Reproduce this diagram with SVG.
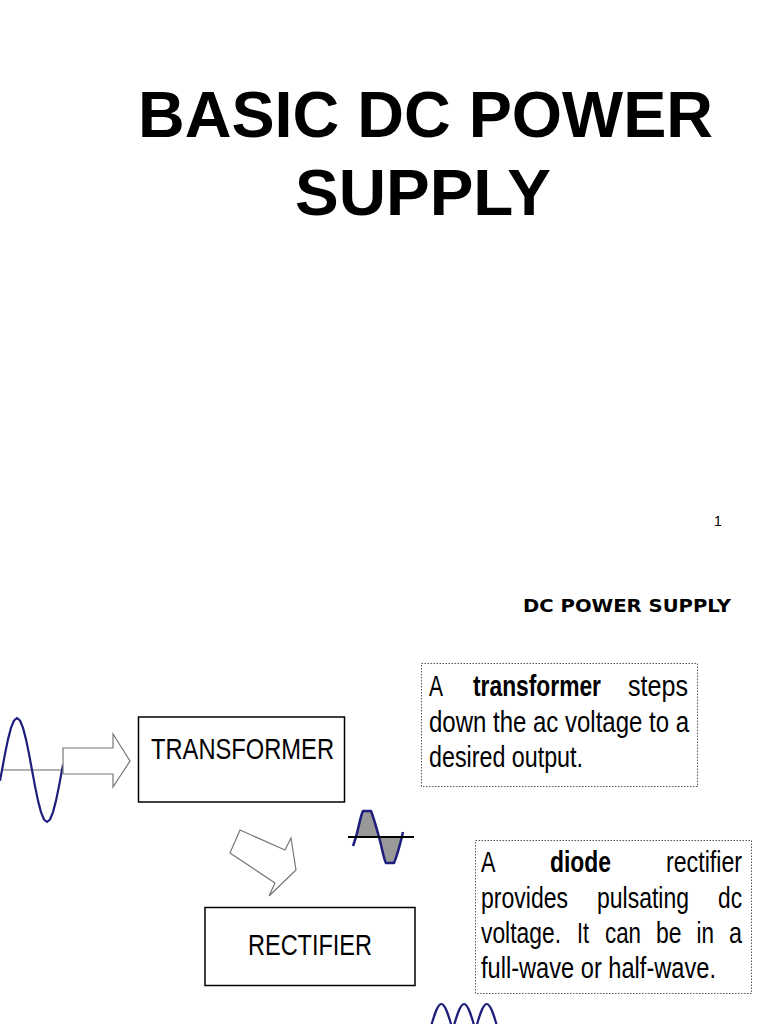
<svg xmlns="http://www.w3.org/2000/svg" width="768" height="1024" viewBox="0 0 768 1024">
<style>
.title{font-family:"Liberation Sans",Arial,sans-serif;font-weight:bold;font-size:65px;fill:#000}
.box{fill:#fff;stroke:#000;stroke-width:1.5}
.note{fill:#fff;stroke:#555;stroke-width:1;stroke-dasharray:1.5 1.5}
.lbl{font-family:"Liberation Sans Narrow","Liberation Sans",Arial,sans-serif;font-size:30px;fill:#000}
.b{font-weight:bold}
.arrow{fill:#fff;stroke:#777;stroke-width:1.2;stroke-linejoin:miter}
.wave{fill:none;stroke:#1e1e7c;stroke-width:2.2;stroke-linejoin:round}
</style>
<rect width="768" height="1024" fill="#fff"/>
<g id="title">
<text class="title" x="138" y="137" textLength="575" lengthAdjust="spacingAndGlyphs">BASIC DC POWER</text>
<text class="title" x="295" y="215" textLength="256" lengthAdjust="spacingAndGlyphs">SUPPLY</text>
</g>
<g id="page-number"><text x="714" y="526" font-family="'Liberation Sans',Arial,sans-serif" font-size="14" fill="#000">1</text></g>
<g id="slide-title"><text x="523" y="612" font-family="'DejaVu Sans',sans-serif" font-weight="bold" font-size="17" fill="#000" textLength="208" lengthAdjust="spacingAndGlyphs">DC POWER SUPPLY</text></g>

<g id="input-wave">
<line x1="2" y1="770" x2="63" y2="770" stroke="#999" stroke-width="1.5"/>
<polyline class="wave" points="0,780.8 2,770 5,753.9 8,739.4 11,727.9 14,720.5 17,718 20,720.5 23,727.9 26,739.4 29,753.9 32,770 35,786.1 38,800.6 41,812.1 44,819.5 47,822 50,819.5 53,812.1 56,800.6 59,786.1 62,770 63,764.6"/>
</g>

<g id="connectors">
<polygon class="arrow" points="63,748 113,748 113,734 130,761 113,787 113,774 63,774"/>
<polygon class="arrow" points="240,830 285,850 291,838 296,870 269,896 275,883 230,853"/>
</g>

<g id="transformer">
<rect class="box" x="138.5" y="717" width="206" height="85"/>
<text class="lbl" x="151" y="759" textLength="183" lengthAdjust="spacingAndGlyphs">TRANSFORMER</text>
</g>

<g id="halfwave">
<path d="M356,837 C359,826 361,814 363,811 L371,811 C373,816 376,826 379,837 Z M379,837 C382,848 384,860 386,863 L394,863 C396,858 398,848 401,837 Z" fill="#999"/>
<path d="M353,846 L356,837 C359,826 361,814 363,811 L371,811 C373,816 376,826 379,837 C382,848 384,860 386,863 L394,863 C397,856 400,845 403,832" fill="none" stroke="#1e1e7c" stroke-width="2.5" stroke-linejoin="round"/>
<line x1="348" y1="837" x2="414" y2="837" stroke="#000" stroke-width="2"/>
</g>

<g id="rectifier">
<rect class="box" x="205" y="907.5" width="210" height="78"/>
<text class="lbl" x="248" y="955" textLength="124" lengthAdjust="spacingAndGlyphs">RECTIFIER</text>
</g>

<g id="fullwave">
<path class="wave" d="M430,1030 C433.7,1016.7 437.2,1004 441.35,1004 C445.5,1004 449,1016.7 452.7,1030 C456.4,1016.7 459.9,1004 464.05,1004 C468.2,1004 471.7,1016.7 475.4,1030 C479.1,1016.7 482.6,1004 486.75,1004 C490.9,1004 494.4,1016.7 498.1,1030"/>
</g>

<g id="note-transformer">
<rect class="note" x="421.5" y="663.5" width="276" height="123"/>
<text class="lbl" x="429" y="696" textLength="14" lengthAdjust="spacingAndGlyphs">A</text>
<text class="lbl b" x="473" y="696" textLength="128" lengthAdjust="spacingAndGlyphs">transformer</text>
<text class="lbl" x="628" y="696" textLength="60" lengthAdjust="spacingAndGlyphs">steps</text>
<text class="lbl" x="429" y="731.5" textLength="260" lengthAdjust="spacingAndGlyphs">down the ac voltage to a</text>
<text class="lbl" x="429" y="767" textLength="154" lengthAdjust="spacingAndGlyphs">desired output.</text>
</g>

<g id="note-rectifier">
<rect class="note" x="475.5" y="840.5" width="276" height="153"/>
<text class="lbl" x="481" y="872" textLength="14.5" lengthAdjust="spacingAndGlyphs">A</text>
<text class="lbl b" x="550" y="872" textLength="61" lengthAdjust="spacingAndGlyphs">diode</text>
<text class="lbl" x="666" y="872" textLength="76" lengthAdjust="spacingAndGlyphs">rectifier</text>
<text class="lbl" x="481" y="907.5" textLength="87" lengthAdjust="spacingAndGlyphs">provides</text>
<text class="lbl" x="597" y="907.5" textLength="92" lengthAdjust="spacingAndGlyphs">pulsating</text>
<text class="lbl" x="718" y="907.5" textLength="24" lengthAdjust="spacingAndGlyphs">dc</text>
<text class="lbl" x="481" y="942.5" textLength="80" lengthAdjust="spacingAndGlyphs">voltage.</text>
<text class="lbl" x="577" y="942.5" textLength="12" lengthAdjust="spacingAndGlyphs">It</text>
<text class="lbl" x="605" y="942.5" textLength="36" lengthAdjust="spacingAndGlyphs">can</text>
<text class="lbl" x="656" y="942.5" textLength="25.5" lengthAdjust="spacingAndGlyphs">be</text>
<text class="lbl" x="696.5" y="942.5" textLength="17.5" lengthAdjust="spacingAndGlyphs">in</text>
<text class="lbl" x="729" y="942.5" textLength="13" lengthAdjust="spacingAndGlyphs">a</text>
<text class="lbl" x="481" y="977.5" textLength="235" lengthAdjust="spacingAndGlyphs">full-wave or half-wave.</text>
</g>
</svg>
